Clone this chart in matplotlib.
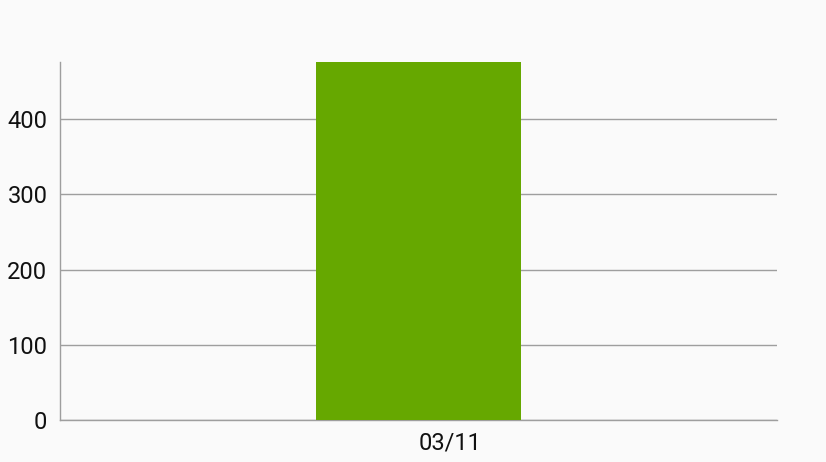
import matplotlib
matplotlib.use("Agg")
import matplotlib.pyplot as plt
import matplotlib.transforms as mtransforms

categories = ["03/11"]
values = [476]
yticks = [0, 100, 200, 300, 400]

plt.rcParams['font.family'] = ['Roboto', 'DejaVu Sans']

fig = plt.figure(figsize=(8.26, 4.62), dpi=100, facecolor='#fafafa')
ax = fig.add_axes([60/826, 1-420/462, 717/826, (420-62)/462])
ax.set_facecolor('#fafafa')

x = list(range(len(categories)))
ax.bar(x, values, width=1.0, color='#66a800', zorder=3)
ax.set_xlim(-1.75, 1.75)
ax.set_ylim(0, max(values))
ax.set_yticks(yticks)
ax.set_yticklabels([str(v) for v in yticks])
ax.set_xticks(x)
ax.set_xticklabels(categories)

ax.grid(axis='y', color='#9e9e9e', linewidth=1, zorder=1)
for s in ['top', 'right']:
    ax.spines[s].set_visible(False)
for s in ['left', 'bottom']:
    ax.spines[s].set_color('#9e9e9e')
    ax.spines[s].set_linewidth(1)
ax.tick_params(axis='both', length=0, labelsize=17, colors='#111111')
ax.tick_params(axis='y', pad=9)
ax.tick_params(axis='x', pad=8)

offset = mtransforms.ScaledTranslation(32/100, 0, fig.dpi_scale_trans)
for lbl in ax.get_xticklabels():
    lbl.set_transform(lbl.get_transform() + offset)

fig.savefig('out.png', dpi=100, facecolor='#fafafa')
